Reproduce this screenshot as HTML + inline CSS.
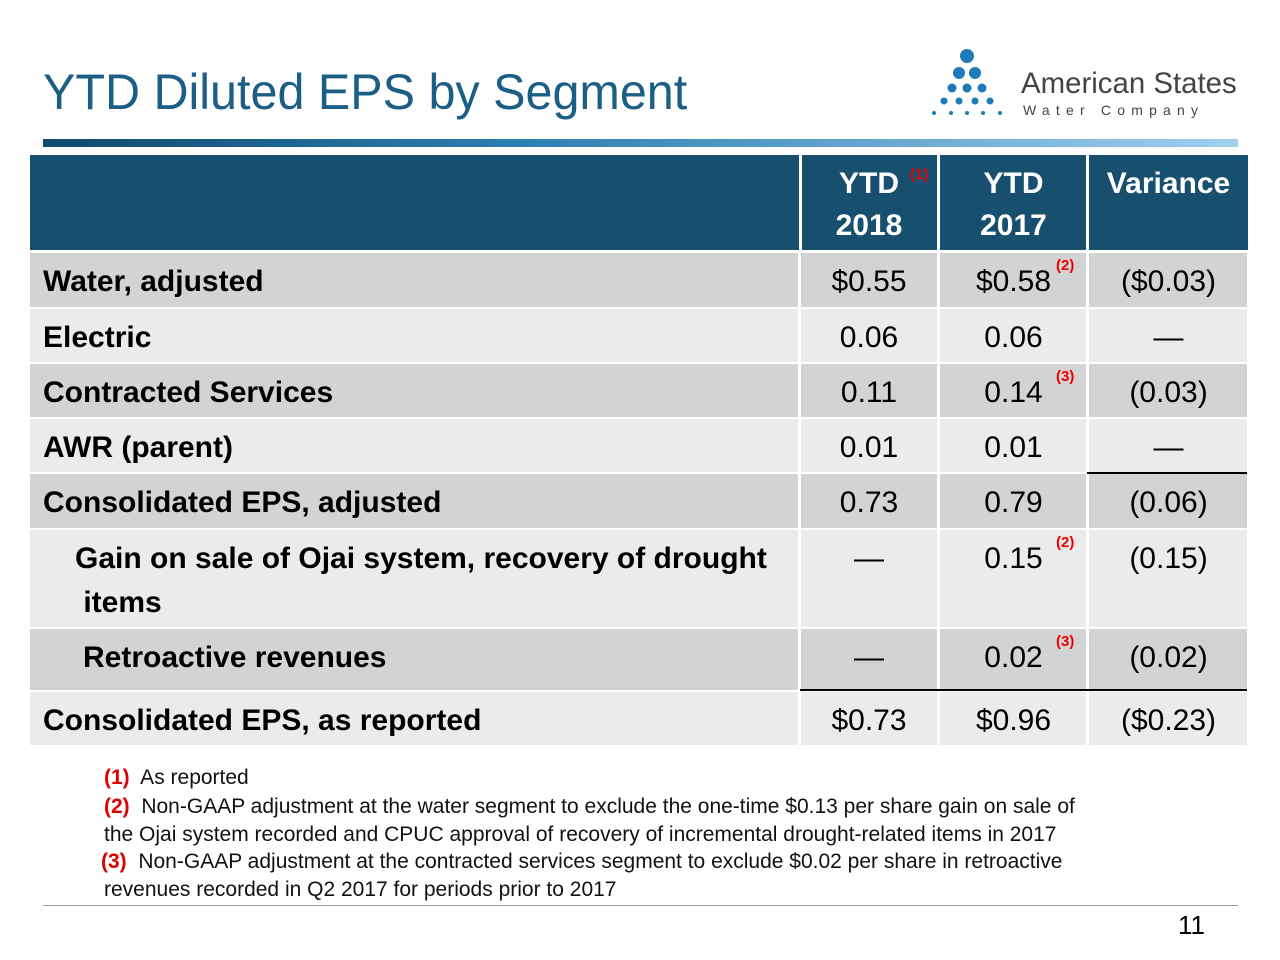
<!DOCTYPE html>
<html><head><meta charset="utf-8">
<style>
body{margin:0;width:1280px;height:960px;background:#fff;position:relative;overflow:hidden;font-family:"Liberation Sans",sans-serif;}
.a{position:absolute;}
.t{position:absolute;white-space:nowrap;transform-origin:0 0;transform:scaleX(1.0);}
.c{position:absolute;white-space:nowrap;text-align:center;}
.cell{position:absolute;}
.lbl{font-size:30px;font-weight:bold;color:#000;}
.num{font-size:30px;color:#000;}
.sup{color:#e00;font-size:15px;font-weight:bold;position:absolute;}
.fn{font-size:21px;color:#111;}
.red{color:#d00;font-weight:bold;}
</style></head><body>
<div class="t" style="left:43px;top:63px;font-size:50px;color:#1b5e86;transform:scaleX(0.97)">YTD Diluted EPS by Segment</div>

<svg class="a" style="left:925px;top:45px" width="90" height="75">
<g fill="#1d7bb8">
<circle cx="42" cy="11" r="7"/>
<circle cx="34" cy="28" r="6"/><circle cx="50" cy="28" r="6"/>
<circle cx="27" cy="43" r="4.5"/><circle cx="42" cy="43" r="4.5"/><circle cx="57" cy="43" r="4.5"/>
<circle cx="19" cy="56" r="3.5"/><circle cx="34" cy="56" r="3.5"/><circle cx="50" cy="56" r="3.5"/><circle cx="65" cy="56" r="3.5"/>
<circle cx="9" cy="68" r="2"/><circle cx="26" cy="68" r="2"/><circle cx="42" cy="68" r="2"/><circle cx="58" cy="68" r="2"/><circle cx="75" cy="68" r="2"/>
</g></svg>
<div class="t" style="left:1021px;top:67px;font-size:30px;color:#444;transform:scaleX(0.98)">American States</div>
<div class="a" style="left:1023px;top:102px;font-size:14px;color:#444;letter-spacing:6.2px;white-space:nowrap">Water Company</div>

<div class="a" style="left:43px;top:139px;width:1195px;height:8px;background:linear-gradient(90deg,#0f4a6e,#2d7fb2 40%,#9fd0ef)"></div>

<div class="cell" style="left:30px;top:155px;width:1218px;height:95px;background:#17506f"></div>
<div class="cell" style="left:799px;top:155px;width:3px;height:95px;background:#fff"></div>
<div class="cell" style="left:937px;top:155px;width:3px;height:95px;background:#fff"></div>
<div class="cell" style="left:1086px;top:155px;width:3px;height:95px;background:#fff"></div>
<div class="c" style="left:800px;width:138px;top:163px;font-size:30px;font-weight:bold;color:#fff;line-height:42px">YTD<br>2018</div>
<div class="sup" style="left:910px;top:166px">(1)</div>
<div class="c" style="left:940px;width:147px;top:163px;font-size:30px;font-weight:bold;color:#fff;line-height:42px">YTD<br>2017</div>
<div class="c" style="left:1089px;width:159px;top:163px;font-size:30px;font-weight:bold;color:#fff;line-height:42px">Variance</div>

<div id="rows"></div>

<div class="a" style="left:1087px;top:472px;width:160px;height:2px;background:#000"></div>
<div class="a" style="left:800px;top:689px;width:447px;height:2px;background:#000"></div>

<div class="t fn" style="left:104px;top:766px"><span class="red">(1)</span>&nbsp; As reported</div>
<div class="t fn" style="left:104px;top:795px"><span class="red">(2)</span>&nbsp; Non-GAAP adjustment at the water segment to exclude the one-time $0.13 per share gain on sale of</div>
<div class="t fn" style="left:104px;top:823px">the Ojai system recorded and CPUC approval of recovery of incremental drought-related items in 2017</div>
<div class="t fn" style="left:101px;top:850px"><span class="red">(3)</span>&nbsp; Non-GAAP adjustment at the contracted services segment to exclude $0.02 per share in retroactive</div>
<div class="t fn" style="left:104px;top:878px">revenues recorded in Q2 2017 for periods prior to 2017</div>
<div class="a" style="left:43px;top:905px;width:1195px;height:1px;background:#999"></div>
<div class="a" style="left:1178px;top:910px;font-size:26px;color:#000">11</div>

<script>
const rowLabels=["Water, adjusted","Electric","Contracted Services","AWR (parent)","Consolidated EPS, adjusted","Gain on sale of Ojai system, recovery of drought","Retroactive revenues","Consolidated EPS, as reported"];
const ytd2018=["$0.55","0.06","0.11","0.01","0.73","—","—","$0.73"];
const ytd2017=["$0.58","0.06","0.14","0.01","0.79","0.15","0.02","$0.96"];
const variance=["($0.03)","—","(0.03)","—","(0.06)","(0.15)","(0.02)","($0.23)"];
const sups=["(2)","","(3)","","","(2)","(3)",""];
const rowTops=[253,309,364,419,474,530,629,692];
const rowH=[54,53,53,53,54,97,61,53];
const indents=[43,43,43,43,43,75,83,43];
const host=document.getElementById('rows');
function mk(cls,style,txt){const d=document.createElement('div');d.className=cls;d.style.cssText=style;if(txt!==undefined)d.textContent=txt;host.appendChild(d);return d;}
rowLabels.forEach((lab,i)=>{
  const bg=i%2===0?'#d3d3d3':'#ebebeb';
  const top=rowTops[i],h=rowH[i];
  const cols=[[30,768],[801,136],[940,146],[1089,158]];
  cols.forEach(c=>{const r=mk('cell',`left:${c[0]}px;top:${top}px;width:${c[1]}px;height:${h}px;background:${bg}`);
  
  });
  const ty=top+7;
  const l=mk('t lbl',`left:${indents[i]}px;top:${ty}px;line-height:44px`);
  l.innerHTML=i===5?lab+'<br>&nbsp;items':lab;
  
  
  const a=mk('c num',`left:800px;width:138px;top:${ty}px;line-height:44px`,ytd2018[i]);
  
  
  const b=mk('c num',`left:940px;width:147px;top:${ty}px;line-height:44px`,ytd2017[i]);
  
  
  const v=mk('c num',`left:1089px;width:159px;top:${ty}px;line-height:44px`,variance[i]);
  
  
  if(sups[i]){const s=mk('sup',`left:1056px;top:${top+4}px`,sups[i]);
    
    }
});
</script>
</body></html>
